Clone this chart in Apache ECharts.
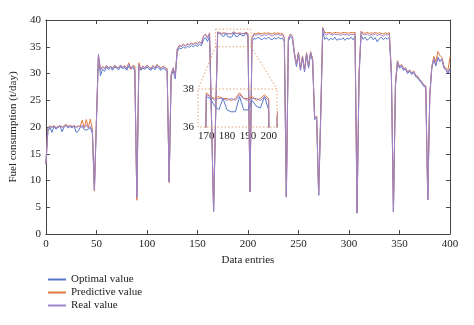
<!DOCTYPE html>
<html>
<head>
<meta charset="utf-8">
<script src="https://cdn.jsdelivr.net/npm/echarts@6/dist/echarts.min.js"></script>
<style>
html,body{margin:0;padding:0;background:#fff;}
#c{width:474px;height:325px;}
</style>
</head>
<body>
<div id="c"></div>
<script>
// x sampled every 2 data entries, from 0 to 400
const step = 2;
const seriesNames = ['Optimal value', 'Predictive value', 'Real value'];
const xTicks = [0, 50, 100, 150, 200, 250, 300, 350, 400];
const yTicks = [0, 5, 10, 15, 20, 25, 30, 35, 40];
const insetXTicks = [170, 180, 190, 200];
const insetYTicks = [36, 38];

const realValue = [
  13.0, 19.8, 20.1, 19.9, 20.2, 19.8, 20.0, 20.3, 19.9, 20.1,
  20.4, 20.0, 20.2, 20.0, 20.3, 19.9, 20.1, 20.0, 20.3, 19.9,
  20.4, 19.8, 20.1, 19.4, 8.2, 21.0, 33.6, 30.6, 31.2, 30.9,
  31.4, 31.1, 31.3, 30.9, 31.5, 31.2, 31.0, 31.6, 31.1, 31.4,
  30.9, 31.8, 31.0, 31.4, 30.8, 6.8, 31.6, 30.9, 31.3, 31.0,
  31.5, 31.1, 30.8, 31.4, 31.0, 31.6, 31.2, 30.9, 31.3, 31.0,
  30.7, 9.7, 29.8, 31.0, 29.4, 34.6, 35.2, 35.0, 35.4, 35.1,
  35.5, 35.3, 35.6, 35.4, 35.7, 35.5, 35.8, 35.6, 36.9, 37.3,
  36.6, 37.5, 21.0, 4.2, 22.0, 37.7, 37.6, 37.4, 37.5, 37.5,
  37.4, 37.5, 37.4, 37.7, 37.5, 37.4, 37.5, 37.5, 37.4, 37.6,
  37.4, 7.9, 36.5, 37.3, 37.1, 37.4, 37.2, 37.0, 37.3, 37.1,
  37.4, 37.2, 37.0, 37.3, 37.2, 37.4, 37.1, 37.3, 36.6, 6.9,
  36.4, 37.3, 36.9, 33.8, 31.6, 33.9, 30.8, 33.2, 30.5, 33.8,
  31.2, 34.0, 32.6, 21.6, 21.9, 7.3, 22.0, 38.5, 37.4, 37.2,
  37.5, 37.3, 37.2, 37.4, 37.2, 37.3, 37.1, 37.4, 37.2, 37.3,
  37.1, 37.4, 37.2, 37.5, 3.9, 30.0, 37.8, 37.3, 37.2, 37.4,
  37.1, 37.3, 37.2, 37.4, 37.1, 37.3, 37.2, 37.0, 37.3, 37.2,
  37.4, 30.0, 4.1, 28.0, 32.3, 31.2, 31.6, 30.8, 31.0, 30.2,
  30.6, 30.0, 30.4, 29.6, 29.4, 28.8, 28.4, 27.8, 27.6, 6.4,
  26.0, 31.2, 32.8, 31.6, 33.1, 32.4, 32.8, 31.2, 30.8, 30.2,
  31.0
];

const predictiveValue = [
  13.2, 19.9, 20.2, 20.0, 20.3, 19.9, 20.1, 20.2, 20.0, 20.2,
  20.5, 20.1, 20.3, 20.1, 20.2, 20.0, 20.2, 20.1, 21.3, 19.8,
  21.4, 19.9, 21.5, 19.6, 8.0, 21.5, 33.4, 30.8, 31.3, 31.0,
  31.5, 31.0, 31.4, 31.0, 31.6, 31.1, 31.2, 31.5, 31.2, 31.5,
  31.0, 32.0, 30.8, 31.5, 31.4, 6.3, 32.0, 30.8, 31.4, 31.1,
  31.6, 31.2, 31.0, 31.5, 31.1, 31.7, 31.3, 31.0, 31.4, 31.1,
  30.9, 9.6, 29.9, 31.1, 29.6, 34.5, 35.3, 35.1, 35.5, 35.2,
  35.6, 35.4, 35.7, 35.5, 35.8, 35.6, 35.9, 35.7, 37.0, 37.4,
  36.7, 37.6, 21.2, 4.3, 22.2, 37.8, 37.6, 37.5, 37.6, 37.5,
  37.5, 37.4, 37.5, 37.8, 37.5, 37.5, 37.6, 37.4, 37.5, 37.7,
  37.5, 8.0, 36.6, 37.5, 37.4, 37.6, 37.5, 37.4, 37.6, 37.5,
  37.6, 37.5, 37.4, 37.6, 37.5, 37.6, 37.4, 37.5, 36.8, 7.0,
  36.6, 37.4, 37.0, 33.9, 31.8, 34.0, 31.0, 33.3, 30.7, 33.9,
  31.4, 34.1, 32.8, 21.8, 22.0, 7.4, 22.2, 38.6, 37.7, 37.6,
  37.7, 37.6, 37.5, 37.7, 37.6, 37.6, 37.5, 37.7, 37.6, 37.6,
  37.5, 37.7, 37.6, 37.7, 4.0, 30.2, 37.9, 37.6, 37.5, 37.7,
  37.5, 37.6, 37.5, 37.7, 37.5, 37.6, 37.5, 37.4, 37.6, 37.5,
  37.6, 30.2, 4.2, 28.2, 32.4, 31.3, 31.7, 30.9, 31.1, 30.3,
  30.7, 30.1, 30.5, 29.7, 29.5, 28.9, 28.5, 27.9, 27.7, 6.5,
  26.2, 31.3, 33.2, 32.2, 34.1, 33.4, 33.0, 31.4, 31.0, 30.6,
  33.2
];

const optimalValue = [
  13.0, 19.2, 19.9, 19.0, 20.1, 19.6, 19.9, 20.2, 19.1, 20.0,
  20.3, 19.8, 20.1, 19.8, 20.2, 19.0, 19.2, 19.9, 20.1, 19.5,
  19.4, 19.6, 19.9, 18.8, 8.3, 20.8, 33.2, 29.6, 30.8, 30.4,
  31.2, 30.7, 31.1, 30.6, 31.2, 31.0, 30.7, 31.3, 30.9, 31.1,
  30.6, 31.4, 30.8, 31.1, 30.6, 6.9, 31.3, 30.6, 31.0, 30.8,
  31.2, 30.8, 30.6, 31.1, 30.7, 31.3, 30.9, 30.6, 31.0, 30.7,
  30.4, 9.8, 29.5, 30.6, 29.0, 34.0, 34.8, 34.6, 35.0, 34.7,
  35.1, 34.9, 35.2, 35.0, 35.3, 35.1, 35.4, 35.2, 36.3, 36.7,
  36.0, 36.9, 20.8, 4.2, 21.5, 37.6, 37.5, 37.1, 36.9, 37.5,
  36.9, 36.8, 36.8, 37.6, 36.9, 36.9, 37.4, 37.1, 37.0, 37.6,
  36.9, 7.9, 36.0, 36.6, 36.4, 36.8, 36.5, 36.3, 36.7, 36.4,
  36.8, 36.5, 36.3, 36.7, 36.4, 36.8, 36.5, 36.6, 36.0, 6.9,
  36.0, 36.9, 36.5, 33.5, 31.3, 33.6, 30.6, 33.0, 30.3, 33.5,
  31.0, 33.7, 32.3, 21.4, 21.7, 7.2, 21.6, 37.8, 36.4, 36.7,
  36.2, 36.6, 36.3, 36.8, 36.2, 36.5, 36.3, 36.7, 36.2, 36.6,
  36.4, 36.8, 36.3, 36.9, 3.9, 29.5, 37.2, 36.4, 36.8, 36.2,
  36.6, 36.9, 36.3, 36.7, 35.9, 36.5, 36.8, 36.3, 36.7, 36.4,
  36.8, 29.6, 4.1, 27.6, 32.0, 31.0, 31.3, 30.6, 30.8, 30.0,
  30.4, 29.8, 30.2, 29.4, 29.2, 28.6, 28.2, 27.6, 27.4, 6.4,
  25.8, 31.0, 32.6, 31.4, 33.0, 32.2, 32.6, 31.0, 30.6, 30.0,
  30.8
];

// zoom window shown in the inset
const zoomWindow = { x0: 168, x1: 203, y0: 35, y1: 38.3 };
const insetRange = { x0: 166, x1: 204, y0: 36, y1: 38 };

const colors = ['#5677cc', '#e07a3c', '#9d82cc'];
const FONT = '"Liberation Serif", "DejaVu Serif", serif';

function pairs(arr) {
  return arr.map((v, i) => [i * step, v]);
}
const dataSets = [optimalValue, predictiveValue, realValue];

const chart = echarts.init(document.getElementById('c'), null, { renderer: 'canvas' });

const axisLineStyle = { color: '#444', width: 1 };
const labelStyle = { color: '#222', fontFamily: FONT, fontSize: 11 };

const series = [];
dataSets.forEach((d, k) => {
  series.push({
    name: seriesNames[k], type: 'line', xAxisIndex: 0, yAxisIndex: 0,
    data: pairs(d), showSymbol: false, symbol: 'none',
    lineStyle: { color: colors[k], width: 1 }, itemStyle: { color: colors[k] },
    z: 2 + k, animation: false
  });
});
dataSets.forEach((d, k) => {
  series.push({
    name: seriesNames[k], type: 'line', xAxisIndex: 2, yAxisIndex: 2,
    data: pairs(d), showSymbol: false, symbol: 'none', clip: true,
    lineStyle: { color: colors[k], width: 1 }, itemStyle: { color: colors[k] },
    z: 6 + k, animation: false
  });
});

chart.setOption({
  animation: false,
  backgroundColor: '#fff',
  textStyle: { fontFamily: FONT },
  legend: {
    data: seriesNames,
    orient: 'vertical',
    left: 43, top: 268,
    itemWidth: 18, itemHeight: 2, itemGap: 0,
    icon: 'rect',
    textStyle: { color: '#222', fontFamily: FONT, fontSize: 11, lineHeight: 13 }
  },
  grid: [
    { left: 45, right: 24, top: 20, bottom: 91 },
    { left: 198, right: 197, top: 89, bottom: 198 }
  ],
  xAxis: [
    {
      gridIndex: 0, type: 'value', min: xTicks[0], max: xTicks[xTicks.length - 1], interval: 50,
      position: 'bottom',
      name: 'Data entries', nameLocation: 'middle', nameGap: 20,
      nameTextStyle: { color: '#222', fontFamily: FONT, fontSize: 11 },
      axisLine: { show: true, onZero: false, lineStyle: axisLineStyle },
      axisTick: { show: true, inside: true, length: 4, lineStyle: axisLineStyle },
      axisLabel: Object.assign({ margin: 5 }, labelStyle),
      splitLine: { show: false }
    },
    {
      gridIndex: 0, type: 'value', min: xTicks[0], max: xTicks[xTicks.length - 1], interval: 50,
      position: 'top',
      axisLine: { show: true, onZero: false, lineStyle: axisLineStyle },
      axisTick: { show: true, inside: true, length: 4, lineStyle: axisLineStyle },
      axisLabel: { show: false }, splitLine: { show: false }
    },
    {
      gridIndex: 1, type: 'value', min: insetRange.x0, max: insetRange.x1, interval: 2,
      position: 'bottom',
      axisLine: { show: false }, axisTick: { show: false }, splitLine: { show: false },
      axisLabel: Object.assign({
        margin: 4, interval: 0,
        formatter: v => insetXTicks.indexOf(v) >= 0 ? String(v) : ''
      }, labelStyle)
    }
  ],
  yAxis: [
    {
      gridIndex: 0, type: 'value', min: yTicks[0], max: yTicks[yTicks.length - 1], interval: 5,
      position: 'left',
      name: 'Fuel consumption (t/day)', nameLocation: 'middle', nameGap: 21,
      nameTextStyle: { color: '#222', fontFamily: FONT, fontSize: 11 },
      axisLine: { show: true, onZero: false, lineStyle: axisLineStyle },
      axisTick: { show: true, inside: true, length: 4, lineStyle: axisLineStyle },
      axisLabel: Object.assign({ margin: 5 }, labelStyle),
      splitLine: { show: false }
    },
    {
      gridIndex: 0, type: 'value', min: yTicks[0], max: yTicks[yTicks.length - 1], interval: 5,
      position: 'right',
      axisLine: { show: true, onZero: false, lineStyle: axisLineStyle },
      axisTick: { show: true, inside: true, length: 4, lineStyle: axisLineStyle },
      axisLabel: { show: false }, splitLine: { show: false }
    },
    {
      gridIndex: 1, type: 'value', min: insetRange.y0, max: insetRange.y1, interval: 2,
      position: 'left',
      axisLine: { show: false }, axisTick: { show: false }, splitLine: { show: false },
      axisLabel: Object.assign({
        margin: 4,
        formatter: v => insetYTicks.indexOf(v) >= 0 ? String(v) : ''
      }, labelStyle)
    }
  ],
  series: series
});

// dotted zoom window, inset frame and connecting lines, positioned from data coordinates
const mainFinder = { xAxisIndex: 0, yAxisIndex: 0 };
const insetFinder = { xAxisIndex: 2, yAxisIndex: 2 };
const p1 = chart.convertToPixel(mainFinder, [zoomWindow.x0, zoomWindow.y1]);
const p2 = chart.convertToPixel(mainFinder, [zoomWindow.x1, zoomWindow.y0]);
const q1 = chart.convertToPixel(insetFinder, [insetRange.x0, insetRange.y1]);
const q2 = chart.convertToPixel(insetFinder, [insetRange.x1, insetRange.y0]);
const dot = { fill: 'none', stroke: '#e3a274', lineWidth: 1, lineDash: [1.5, 2] };

chart.setOption({
  graphic: [
    { type: 'rect', silent: true, z: 10,
      shape: { x: p1[0], y: p1[1], width: p2[0] - p1[0], height: p2[1] - p1[1] }, style: dot },
    { type: 'rect', silent: true, z: 10,
      shape: { x: q1[0], y: q1[1], width: q2[0] - q1[0], height: q2[1] - q1[1] }, style: dot },
    { type: 'line', silent: true, z: 10,
      shape: { x1: p1[0], y1: p2[1], x2: q1[0], y2: q1[1] }, style: dot },
    { type: 'line', silent: true, z: 10,
      shape: { x1: p2[0], y1: p2[1], x2: q2[0], y2: q1[1] }, style: dot }
  ]
});
</script>
</body>
</html>
